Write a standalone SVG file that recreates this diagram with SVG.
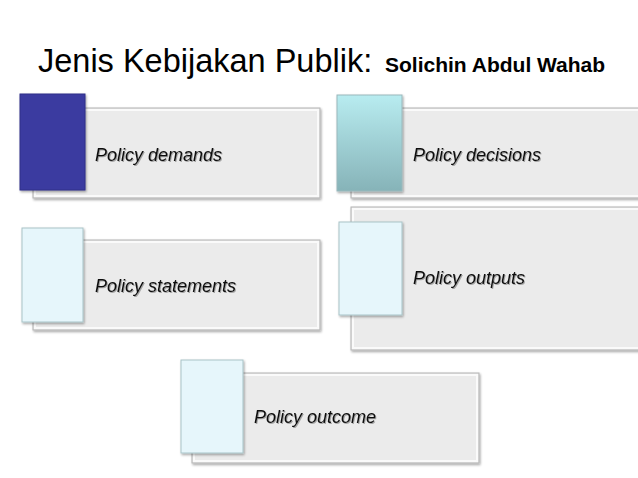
<svg xmlns="http://www.w3.org/2000/svg" width="638" height="478" viewBox="0 0 638 478">
<defs>
<linearGradient id="teal" x1="0" y1="0" x2="0" y2="1"><stop offset="0" stop-color="#b8ecf0"/><stop offset="1" stop-color="#86b3b8"/></linearGradient>
<filter id="sh" x="-5%" y="-5%" width="115%" height="120%"><feDropShadow dx="1" dy="1.5" stdDeviation="1" flood-color="#000" flood-opacity="0.35"/></filter>
<filter id="tsh"><feDropShadow dx="1" dy="1" stdDeviation="0.6" flood-color="#000" flood-opacity="0.3"/></filter>
</defs>
<style>
.panel{fill:#ebebeb;stroke:#b4b4b4;stroke-width:1}
.bev{fill:none;stroke:#fafafa;stroke-width:2}
.sq{stroke:#a9c4c8;stroke-width:1}
.lbl{font-family:"Liberation Sans",Arial,sans-serif;font-style:italic;font-size:18px;fill:#111}
</style>
<rect width="638" height="478" fill="#fff"/>
<text x="38" y="71.5" font-family="'Liberation Sans',Arial,sans-serif" font-size="32.5" fill="#000">Jenis Kebijakan Publik:</text>
<text x="385" y="71.5" font-family="'Liberation Sans',Arial,sans-serif" font-size="21" font-weight="bold" fill="#000">Solichin Abdul Wahab</text>

<g id="node-demands">
<rect class="panel" x="33" y="108" width="287" height="90" filter="url(#sh)"/>
<rect class="bev" x="35" y="110" width="283" height="86"/>
<rect x="20" y="94" width="65" height="96" fill="#3a3aa0" stroke="#2e2e88" filter="url(#sh)"/>
<text class="lbl" x="95" y="161" filter="url(#tsh)">Policy demands</text>
</g>

<g id="node-decisions">
<rect class="panel" x="351" y="108" width="300" height="90" filter="url(#sh)"/>
<rect class="bev" x="353" y="110" width="296" height="86"/>
<rect x="337" y="95" width="65" height="96" fill="url(#teal)" stroke="#9ab8bc" filter="url(#sh)"/>
<text class="lbl" x="413" y="161" filter="url(#tsh)">Policy decisions</text>
</g>

<g id="node-statements">
<rect class="panel" x="33" y="240" width="287" height="90" filter="url(#sh)"/>
<rect class="bev" x="35" y="242" width="283" height="86"/>
<rect class="sq" x="22" y="228" width="61" height="94" fill="#e6f6fb" filter="url(#sh)"/>
<text class="lbl" x="95" y="292" filter="url(#tsh)">Policy statements</text>
</g>

<g id="node-outputs">
<rect class="panel" x="351" y="207" width="300" height="143" filter="url(#sh)"/>
<rect class="bev" x="353" y="209" width="296" height="139"/>
<rect class="sq" x="339" y="222" width="63" height="93" fill="#e6f6fb" filter="url(#sh)"/>
<text class="lbl" x="413" y="284" filter="url(#tsh)">Policy outputs</text>
</g>

<g id="node-outcome">
<rect class="panel" x="192" y="373" width="287" height="90" filter="url(#sh)"/>
<rect class="bev" x="194" y="375" width="283" height="86"/>
<rect class="sq" x="181" y="360" width="62" height="93" fill="#e6f6fb" filter="url(#sh)"/>
<text class="lbl" x="254" y="423" filter="url(#tsh)">Policy outcome</text>
</g>

<g id="connectors"></g>
</svg>
